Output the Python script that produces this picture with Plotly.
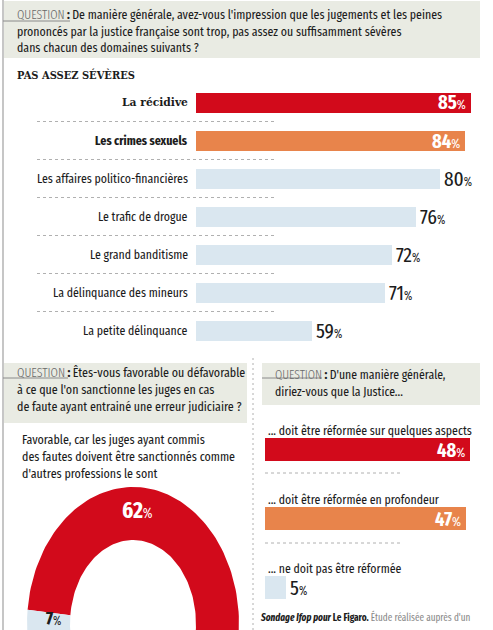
import subprocess
import numpy as np
import plotly.graph_objects as go

W, H = 493, 630

# ---------------- data ----------------
severity_labels = [
    "La récidive",
    "Les crimes sexuels",
    "Les affaires politico-financières",
    "Le trafic de drogue",
    "Le grand banditisme",
    "La délinquance des mineurs",
    "La petite délinquance",
]
severity_values = [85, 84, 80, 76, 72, 71, 59]

sanction_labels = ["Favorable", "Défavorable", "Autre"]
sanction_values = [62, 31, 7]

reform_labels = [
    "... doit être réformée sur quelques aspects",
    "... doit être réformée en profondeur",
    "... ne doit pas être réformée",
]
reform_values = [48, 47, 5]

# ---------------- styles ----------------
RED = "#d20a1b"
ORANGE = "#e8844b"
LIGHT = "#dae7f0"
BOXBG = "#e9ebe3"
TXT = "#1c1c1c"
SANS_NAME = "Fira Sans Extra Condensed"
SERIF_NAME = "DejaVu Serif Condensed"
SANS = SANS_NAME + ", Roboto Condensed, sans-serif"
LIGHTF = SANS_NAME + " Light"
SERIF = SERIF_NAME + ", DejaVu Serif, serif"

sev_colors = [RED, ORANGE] + [LIGHT] * 5
ref_colors = [RED, ORANGE, LIGHT]
don_colors = [RED, ORANGE, LIGHT]


def fit(s, family, target_px, default, bold=False):
    """font size giving the wanted text width (measured with the installed font)."""
    try:
        from PIL import ImageFont
        pat = family + (":bold" if bold else "")
        path = subprocess.run(["fc-match", "-f", "%{file}", pat],
                              capture_output=True, text=True).stdout.strip()
        f = ImageFont.truetype(path, 100)
        size = 100.0 * target_px / f.getlength(s)
        if 7 <= size <= 22:
            return round(size, 2)
    except Exception:
        pass
    return default


def px(x):
    return x / W


def py(y):
    return 1 - y / H


fig = go.Figure()

fig.add_trace(go.Bar(
    x=severity_values, y=severity_labels, orientation="h",
    marker=dict(color=sev_colors, line=dict(width=0)), width=0.55,
    xaxis="x", yaxis="y", hoverinfo="skip", showlegend=False,
))

fig.add_trace(go.Bar(
    x=reform_values, y=reform_labels, orientation="h",
    marker=dict(color=ref_colors, line=dict(width=0)), width=0.32,
    xaxis="x2", yaxis="y2", hoverinfo="skip", showlegend=False,
))

# donut (elliptical, as in the vertically stretched original) on a pixel axis
cx, cy = 133, 624
rxo, ryo, rxi, ryi = 106, 137, 63, 84
start = 174.0
tot = float(sum(sanction_values))
acc = 0.0
for val, col in zip(sanction_values, don_colors):
    a0 = start - acc / tot * 360
    a1 = start - (acc + val) / tot * 360
    acc += val
    t = np.radians(np.linspace(a0, a1, 120))
    xo = cx + rxo * np.cos(t)
    yo = cy - ryo * np.sin(t)
    xi = cx + rxi * np.cos(t[::-1])
    yi = cy - ryi * np.sin(t[::-1])
    fig.add_trace(go.Scatter(
        x=np.concatenate([xo, xi, xo[:1]]), y=np.concatenate([yo, yi, yo[:1]]),
        mode="lines", fill="toself", fillcolor=col, line=dict(width=0, color=col),
        xaxis="x3", yaxis="y3", hoverinfo="skip", showlegend=False,
    ))

shapes = []


def rect(x0, y0, x1, y1, color):
    shapes.append(dict(type="rect", xref="paper", yref="paper", x0=px(x0), x1=px(x1),
                       y0=py(y1), y1=py(y0), fillcolor=color, line=dict(width=0), layer="below"))


def line(x0, y0, x1, y1, color="#999", dash="solid", width=1):
    shapes.append(dict(type="line", xref="paper", yref="paper", x0=px(x0), x1=px(x1),
                       y0=py(y0), y1=py(y1), line=dict(color=color, width=width, dash=dash)))


rect(4, 1, 480, 58, BOXBG)
rect(4, 363, 247, 423, BOXBG)
rect(262, 363, 480, 405, BOXBG)
line(3, 0, 3, 630, "#a0a0a0", width=1.2)
line(3, 21, 70, 21, "#8a8a8a")
line(3, 378, 68, 378, "#8a8a8a")
line(262, 378, 322, 378, "#8a8a8a")
for i in range(len(severity_labels) - 1):
    shapes.append(dict(type="line", xref="paper", yref="y", x0=px(37), x1=px(275),
                       y0=i + 0.5, y1=i + 0.5, line=dict(color="#b0b0b0", width=1, dash="3px,3px")))
line(253, 358, 253, 630, "#b0b0b0", dash="2px,3px")
line(265, 473, 400, 473, "#b0b0b0", dash="3px,3px")
line(265, 543, 400, 543, "#b0b0b0", dash="3px,3px")

ann = []


def text(x, ymid, s, size, color=TXT, family=SANS):
    ann.append(dict(xref="paper", yref="paper", x=px(x), y=py(ymid), text=s, showarrow=False,
                    xanchor="left", yanchor="middle", align="left",
                    font=dict(size=size, color=color, family=family)))


Q = "<span style='color:#6a6a6a;font-family:%s'>QUESTION</span><b> : </b>" % LIGHTF

# top question (one annotation per line, 17 px apart)
q1 = "De manière générale, avez-vous l'impression que les jugements et les peines"
s_top = fit("QUESTION : " + q1, SANS_NAME, 427, 11.6)
text(15, 14, Q + q1, s_top)
text(15, 31, "prononcés par la justice française sont trop, pas assez ou suffisamment sévères", s_top)
text(15, 48, "dans chacun des domaines suivants ?", s_top)
text(15, 75, "<b>PAS ASSEZ SÉVÈRES</b>", fit("PAS ASSEZ SÉVÈRES", SERIF_NAME, 118, 10.8, True),
     family=SERIF)

s_lab = fit(severity_labels[2], SANS_NAME, 151, 12.4)
s_lab0 = fit(severity_labels[0], SERIF_NAME, 66, 11.8, True)
s_lab1 = fit(severity_labels[1], SANS_NAME, 92, 12.4, True)
for i, (lab, v) in enumerate(zip(severity_labels, severity_values)):
    if i == 0:
        s, fam, sz = "<b>" + lab + "</b>", SERIF, s_lab0
    elif i == 1:
        s, fam, sz = "<b>" + lab + "</b>", SANS, s_lab1
    else:
        s, fam, sz = lab, SANS, s_lab
    ann.append(dict(xref="paper", yref="y", x=px(190), y=lab, text=s, showarrow=False,
                    xanchor="right", yanchor="middle", font=dict(size=sz, color=TXT, family=fam)))
    if i < 2:
        vt = "<b>%d</b><span style='font-size:13px'>%%</span>" % v
        ann.append(dict(xref="x", yref="y", x=v, y=lab, text=vt, showarrow=False, xanchor="right",
                        yanchor="middle", xshift=-3, font=dict(size=20, color="white", family=SANS)))
    else:
        vt = "%d<span style='font-size:12px'>%%</span>" % v
        ann.append(dict(xref="x", yref="y", x=v, y=lab, text=vt, showarrow=False, xanchor="left",
                        yanchor="middle", xshift=2, font=dict(size=21, color=TXT, family=SANS)))

# bottom-left question (3 lines, block centred on the middle line)
bl1 = "Êtes-vous favorable ou défavorable"
text(15, 389, Q + bl1 + "<br>à ce que l'on sanctionne les juges en cas<br>"
     "de faute ayant entrainé une erreur judiciaire ?",
     fit("QUESTION : " + bl1, SANS_NAME, 230, 12.0))
fav2 = "des fautes doivent être sanctionnés comme"
text(20, 456, "Favorable, car les juges ayant commis<br>" + fav2 + "<br>d'autres professions le sont",
     fit(fav2, SANS_NAME, 213, 12.2))
ann.append(dict(xref="x3", yref="y3", x=137, y=510,
                text="<b>%d</b><span style='font-size:14px'>%%</span>" % sanction_values[0],
                showarrow=False, xanchor="center", yanchor="middle",
                font=dict(size=23, color="white", family=SANS)))
ann.append(dict(xref="x3", yref="y3", x=53, y=619,
                text="<b>%d</b><span style='font-size:12px'>%%</span>" % sanction_values[2],
                showarrow=False, xanchor="center", yanchor="middle",
                font=dict(size=18, color=TXT, family=SANS)))

# bottom-right question + bars
br1 = "D'une manière générale,"
text(273, 383, Q + br1 + "<br>diriez-vous que la Justice...",
     fit("QUESTION : " + br1, SANS_NAME, 172, 12.4))
s_ref = fit(reform_labels[0], SANS_NAME, 204, 13.6)
for i, (lab, v) in enumerate(zip(reform_labels, reform_values)):
    ann.append(dict(xref="paper", yref="y2", x=px(266), y=lab, text=lab, showarrow=False,
                    xanchor="left", yanchor="middle", yshift=19,
                    font=dict(size=s_ref, color=TXT, family=SANS)))
    if i < 2:
        vt = "<b>%d</b><span style='font-size:13px'>%%</span>" % v
        ann.append(dict(xref="x2", yref="y2", x=v, y=lab, text=vt, showarrow=False, xanchor="right",
                        yanchor="middle", xshift=-3, font=dict(size=20, color="white", family=SANS)))
    else:
        vt = "%d<span style='font-size:12px'>%%</span>" % v
        ann.append(dict(xref="x2", yref="y2", x=v, y=lab, text=vt, showarrow=False, xanchor="left",
                        yanchor="middle", xshift=2, font=dict(size=21, color=TXT, family=SANS)))

foot = "Sondage Ifop pour Le Figaro. Étude réalisée auprès d'un"
ann.append(dict(xref="paper", yref="paper", x=px(258), y=py(617), showarrow=False,
                xanchor="left", yanchor="middle",
                text="<b><i>Sondage Ifop pour</i> Le Figaro.</b> "
                     "<span style='color:#8a8a8a'>Étude réalisée auprès d'un</span>",
                font=dict(size=fit(foot, SANS_NAME, 208, 10.0), color=TXT, family=SANS)))

top_y0, top_y1 = 83.5, 83.5 + 38 * 7
br_y0, br_y1 = 415, 415 + 69 * 3
fig.update_layout(
    width=W, height=H, margin=dict(l=0, r=0, t=0, b=0),
    paper_bgcolor="white", plot_bgcolor="rgba(0,0,0,0)",
    bargap=0, shapes=shapes, annotations=ann,
    xaxis=dict(domain=[px(196), px(471)], range=[40, 85], visible=False, fixedrange=True),
    yaxis=dict(domain=[py(top_y1), py(top_y0)], range=[6.5, -0.5], type="category",
               categoryorder="array", categoryarray=severity_labels, visible=False, fixedrange=True),
    xaxis2=dict(domain=[px(265), px(470)], range=[0, 48], anchor="y2", visible=False, fixedrange=True),
    yaxis2=dict(domain=[py(br_y1), py(br_y0)], range=[2.5, -0.5], type="category", anchor="x2",
                categoryorder="array", categoryarray=reform_labels, visible=False, fixedrange=True),
    xaxis3=dict(domain=[0, 1], range=[0, W], anchor="y3", visible=False, fixedrange=True),
    yaxis3=dict(domain=[0, 1], range=[H, 0], anchor="x3", visible=False, fixedrange=True),
)

fig.write_html("out.html", config={"displayModeBar": False})
